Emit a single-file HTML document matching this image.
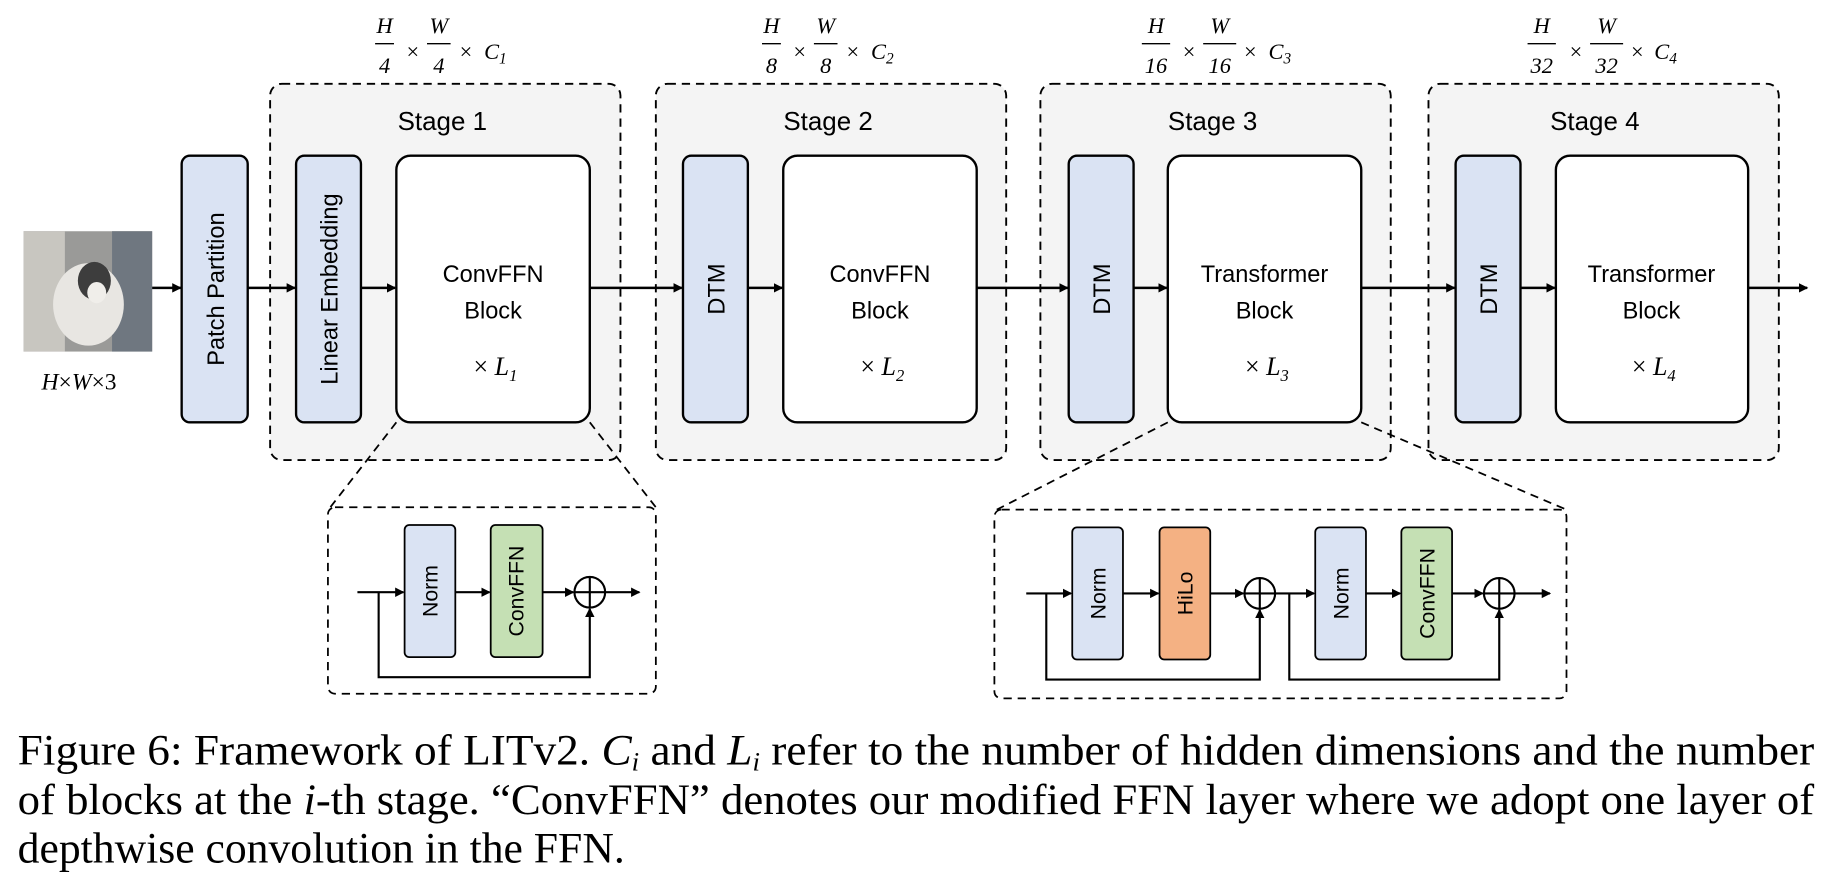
<!DOCTYPE html>
<html><head><meta charset="utf-8"><style>
html,body{margin:0;padding:0;background:#fff;}
svg{display:block;}
.t{font-family:"Liberation Sans",sans-serif;fill:#000;}
.m{font-family:"Liberation Serif",serif;font-style:italic;fill:#000;}
.cap{font-family:"Liberation Serif",serif;fill:#000;font-size:37px;}
</style></head><body>
<svg width="1826" height="886" viewBox="0 0 1548 751" preserveAspectRatio="none" xmlns="http://www.w3.org/2000/svg">
<defs>
<marker id="a" markerWidth="8" markerHeight="8" refX="7" refY="4" orient="auto" markerUnits="userSpaceOnUse"><path d="M0,0 L8,4 L0,8 z" fill="#000"/></marker>
</defs>
<g fill="#f4f4f4" stroke="#000" stroke-width="1.6" stroke-dasharray="7,5">
<rect x="229" y="71" width="297" height="319" rx="10"/>
<rect x="556" y="71" width="297" height="319" rx="10"/>
<rect x="882" y="71" width="297" height="319" rx="10"/>
<rect x="1211" y="71" width="297" height="319" rx="10"/>
</g>
<g class="t" font-size="22" text-anchor="middle">
<text x="375" y="110">Stage 1</text><text x="702" y="110">Stage 2</text>
<text x="1028" y="110">Stage 3</text><text x="1352" y="110">Stage 4</text>
</g>
<g class="m" font-size="19" text-anchor="middle">
<text x="326" y="28">H</text><text x="326" y="62">4</text><line x1="318" y1="37" x2="334" y2="37" stroke="#000" stroke-width="1.2"/><text x="350" y="50" style="font-style:normal">×</text>
<text x="372" y="28">W</text><text x="372" y="62">4</text><line x1="362" y1="37" x2="382" y2="37" stroke="#000" stroke-width="1.2"/><text x="395" y="50" style="font-style:normal">×</text><text x="420" y="50">C<tspan font-size="13" dy="4">1</tspan></text>
<text x="654" y="28">H</text><text x="654" y="62">8</text><line x1="646" y1="37" x2="662" y2="37" stroke="#000" stroke-width="1.2"/><text x="678" y="50" style="font-style:normal">×</text>
<text x="700" y="28">W</text><text x="700" y="62">8</text><line x1="690" y1="37" x2="710" y2="37" stroke="#000" stroke-width="1.2"/><text x="723" y="50" style="font-style:normal">×</text><text x="748" y="50">C<tspan font-size="13" dy="4">2</tspan></text>
<text x="980" y="28">H</text><text x="980" y="62">16</text><line x1="968" y1="37" x2="992" y2="37" stroke="#000" stroke-width="1.2"/><text x="1008" y="50" style="font-style:normal">×</text>
<text x="1034" y="28">W</text><text x="1034" y="62">16</text><line x1="1020" y1="37" x2="1048" y2="37" stroke="#000" stroke-width="1.2"/><text x="1060" y="50" style="font-style:normal">×</text><text x="1085" y="50">C<tspan font-size="13" dy="4">3</tspan></text>
<text x="1307" y="28">H</text><text x="1307" y="62">32</text><line x1="1295" y1="37" x2="1319" y2="37" stroke="#000" stroke-width="1.2"/><text x="1336" y="50" style="font-style:normal">×</text>
<text x="1362" y="28">W</text><text x="1362" y="62">32</text><line x1="1348" y1="37" x2="1376" y2="37" stroke="#000" stroke-width="1.2"/><text x="1388" y="50" style="font-style:normal">×</text><text x="1412" y="50">C<tspan font-size="13" dy="4">4</tspan></text>
</g>
<rect x="20" y="196" width="109" height="102" fill="#9a9a98"/>
<rect x="20" y="196" width="35" height="102" fill="#c8c6c0"/>
<rect x="95" y="196" width="34" height="102" fill="#6f7780"/>
<ellipse cx="75" cy="258" rx="30" ry="35" fill="#e8e6e2"/>
<ellipse cx="80" cy="238" rx="14" ry="16" fill="#3d3d3d"/>
<ellipse cx="82" cy="248" rx="8" ry="9" fill="#f0eeea"/>
<text class="m" x="67" y="330" font-size="20" text-anchor="middle">H<tspan style="font-style:normal">×</tspan>W<tspan style="font-style:normal">×3</tspan></text>
<g fill="#dae3f3" stroke="#000" stroke-width="2">
<rect x="154" y="132" width="56" height="226" rx="7"/>
<rect x="251" y="132" width="55" height="226" rx="7"/>
<rect x="579" y="132" width="55" height="226" rx="7"/>
<rect x="906" y="132" width="55" height="226" rx="7"/>
<rect x="1234" y="132" width="55" height="226" rx="7"/>
</g>
<g fill="#fff" stroke="#000" stroke-width="2">
<rect x="336" y="132" width="164" height="226" rx="12"/>
<rect x="664" y="132" width="164" height="226" rx="12"/>
<rect x="990" y="132" width="164" height="226" rx="12"/>
<rect x="1319" y="132" width="163" height="226" rx="12"/>
</g>
<g class="t" font-size="20" text-anchor="middle">
<text transform="translate(190,245) rotate(-90)">Patch Partition</text>
<text transform="translate(286,245) rotate(-90)">Linear Embedding</text>
<text transform="translate(614,245) rotate(-90)">DTM</text>
<text transform="translate(941,245) rotate(-90)">DTM</text>
<text transform="translate(1269,245) rotate(-90)">DTM</text>
<text x="418" y="239">ConvFFN</text><text x="418" y="270">Block</text>
<text x="746" y="239">ConvFFN</text><text x="746" y="270">Block</text>
<text x="1072" y="239">Transformer</text><text x="1072" y="270">Block</text>
<text x="1400" y="239">Transformer</text><text x="1400" y="270">Block</text>
</g>
<g class="m" font-size="22" text-anchor="middle">
<text x="420" y="318"><tspan style="font-style:normal">× </tspan>L<tspan font-size="14" dy="5">1</tspan></text>
<text x="748" y="318"><tspan style="font-style:normal">× </tspan>L<tspan font-size="14" dy="5">2</tspan></text>
<text x="1074" y="318"><tspan style="font-style:normal">× </tspan>L<tspan font-size="14" dy="5">3</tspan></text>
<text x="1402" y="318"><tspan style="font-style:normal">× </tspan>L<tspan font-size="14" dy="5">4</tspan></text>
</g>
<g stroke="#000" stroke-width="2.2" marker-end="url(#a)">
<line x1="129" y1="244" x2="153" y2="244"/><line x1="210" y1="244" x2="250" y2="244"/>
<line x1="306" y1="244" x2="335" y2="244"/><line x1="500" y1="244" x2="578" y2="244"/>
<line x1="634" y1="244" x2="663" y2="244"/><line x1="828" y1="244" x2="905" y2="244"/>
<line x1="961" y1="244" x2="989" y2="244"/><line x1="1154" y1="244" x2="1233" y2="244"/>
<line x1="1289" y1="244" x2="1318" y2="244"/><line x1="1482" y1="244" x2="1532" y2="244"/>
</g>
<g stroke="#000" stroke-width="1.5" stroke-dasharray="7,5" fill="none">
<line x1="336" y1="358" x2="280" y2="430"/><line x1="500" y1="358" x2="556" y2="430"/>
<line x1="990" y1="358" x2="845" y2="432"/><line x1="1154" y1="358" x2="1328" y2="432"/>
<rect x="278" y="430" width="278" height="158" rx="6"/>
<rect x="843" y="432" width="485" height="160" rx="6"/>
</g>
<rect x="343" y="445" width="43" height="112" rx="4" fill="#dae3f3" stroke="#000" stroke-width="1.5"/>
<rect x="416" y="445" width="44" height="112" rx="4" fill="#c5e0b4" stroke="#000" stroke-width="1.5"/>
<rect x="909" y="447" width="43" height="112" rx="4" fill="#dae3f3" stroke="#000" stroke-width="1.5"/>
<rect x="983" y="447" width="43" height="112" rx="4" fill="#f4b183" stroke="#000" stroke-width="1.5"/>
<rect x="1115" y="447" width="43" height="112" rx="4" fill="#dae3f3" stroke="#000" stroke-width="1.5"/>
<rect x="1188" y="447" width="43" height="112" rx="4" fill="#c5e0b4" stroke="#000" stroke-width="1.5"/>
<g class="t" font-size="18" text-anchor="middle">
<text transform="translate(371,501) rotate(-90)">Norm</text>
<text transform="translate(444,501) rotate(-90)">ConvFFN</text>
<text transform="translate(937,503) rotate(-90)">Norm</text>
<text transform="translate(1011,503) rotate(-90)">HiLo</text>
<text transform="translate(1143,503) rotate(-90)">Norm</text>
<text transform="translate(1216,503) rotate(-90)">ConvFFN</text>
</g>
<g stroke="#000" stroke-width="1.8" fill="none">
<line x1="303" y1="502" x2="342" y2="502" marker-end="url(#a)"/>
<line x1="386" y1="502" x2="415" y2="502" marker-end="url(#a)"/>
<line x1="460" y1="502" x2="486" y2="502" marker-end="url(#a)"/>
<circle cx="500" cy="502" r="13"/><line x1="487" y1="502" x2="513" y2="502"/><line x1="500" y1="489" x2="500" y2="515"/>
<line x1="513" y1="502" x2="542" y2="502" marker-end="url(#a)"/>
<polyline points="321,502 321,574 500,574 500,516" marker-end="url(#a)"/>
<line x1="870" y1="503" x2="908" y2="503" marker-end="url(#a)"/>
<line x1="952" y1="503" x2="982" y2="503" marker-end="url(#a)"/>
<line x1="1026" y1="503" x2="1054" y2="503" marker-end="url(#a)"/>
<circle cx="1068" cy="503" r="13"/><line x1="1055" y1="503" x2="1081" y2="503"/><line x1="1068" y1="490" x2="1068" y2="516"/>
<line x1="1081" y1="503" x2="1114" y2="503" marker-end="url(#a)"/>
<line x1="1158" y1="503" x2="1187" y2="503" marker-end="url(#a)"/>
<line x1="1231" y1="503" x2="1257" y2="503" marker-end="url(#a)"/>
<circle cx="1271" cy="503" r="13"/><line x1="1258" y1="503" x2="1284" y2="503"/><line x1="1271" y1="490" x2="1271" y2="516"/>
<line x1="1284" y1="503" x2="1314" y2="503" marker-end="url(#a)"/>
<polyline points="887,503 887,576 1068,576 1068,517" marker-end="url(#a)"/>
<polyline points="1093,503 1093,576 1271,576 1271,517" marker-end="url(#a)"/>
</g>
<text class="cap" x="15" y="648" textLength="1523" lengthAdjust="spacingAndGlyphs">Figure 6: Framework of LITv2. <tspan font-style="italic">C<tspan font-size="22" dy="5">i</tspan></tspan><tspan dy="-5"> and </tspan><tspan font-style="italic">L<tspan font-size="22" dy="5">i</tspan></tspan><tspan dy="-5"> refer to the number of hidden dimensions and the number</tspan></text>
<text class="cap" x="15" y="690" textLength="1523" lengthAdjust="spacingAndGlyphs">of blocks at the <tspan font-style="italic">i</tspan>-th stage. “ConvFFN” denotes our modified FFN layer where we adopt one layer of</text>
<text class="cap" x="15" y="731">depthwise convolution in the FFN.</text>
</svg>
</body></html>
